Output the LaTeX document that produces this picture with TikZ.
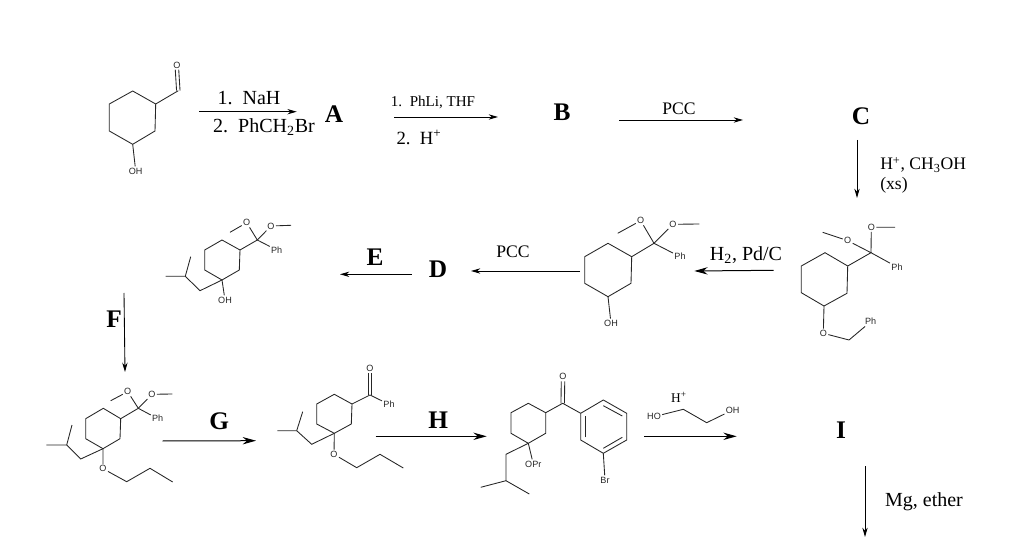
\documentclass[tikz,border=0pt]{standalone}
\usepackage{fontspec}
\setmainfont{Liberation Serif}
\newfontfamily\atomfont{Liberation Sans}
\usetikzlibrary{arrows.meta}
\tikzset{
  bond/.style={line width=0.65pt, draw=black!85},
  rxn/.style={line width=0.65pt, -{Stealth[length=7pt,width=4pt]}},
  rxnbig/.style={line width=0.75pt, -{Stealth[length=10pt,width=5.5pt]}},
  atom/.style={font=\atomfont\fontsize{6.8}{8}\selectfont, inner sep=0.9pt, text=black!85},
  reagent/.style={font=\fontsize{15}{16}\selectfont, inner sep=0pt, align=left},
  smallreagent/.style={font=\fontsize{13.2}{15}\selectfont, inner sep=0pt, align=left},
  tinyreagent/.style={font=\fontsize{10}{11}\selectfont, inner sep=0pt},
  compound/.style={font=\bfseries\fontsize{19}{20}\selectfont, inner sep=0pt}
}
\begin{document}
\begin{tikzpicture}[x=0.75pt, y=-0.75pt]
\useasboundingbox (0,0) rectangle (1024,559);

% hydroxy aldehyde
\coordinate (ma) at (132.7,91); \coordinate (mb) at (155.7,104); \coordinate (mc) at (155,131);
\coordinate (md) at (132.7,144.3); \coordinate (me) at (109.3,131); \coordinate (mf) at (109.3,104);
\coordinate (mcho) at (178.3,90.7);
\node[atom] (mo) at (177,65) {O};
\node[atom] (moh) at (135.7,171) {OH};
\draw[bond] (ma) -- (mb) -- (mc) -- (md) -- (me) -- (mf) -- cycle;
\draw[bond] (mb) -- (mcho);
\draw[bond] ([xshift=-1.3pt]mcho) -- ([xshift=-1.3pt]mo.south);
\draw[bond] ([xshift=1.3pt]mcho) -- ([xshift=1.3pt]mo.south);
\draw[bond] (md) -- (moh);

\coordinate (r1s) at (199,111.7); \coordinate (r1e) at (296.7,111.7);
\draw[rxn] (r1s) -- (r1e);
\node[reagent] (r1a) at (249,98) {1.\ \ NaH};
\node[reagent] (r1b) at (264,127) {2.\ \ PhCH\textsubscript{2}Br};
\node[compound] (cpdA) at (334,114) {A};

\coordinate (r2s) at (394,117); \coordinate (r2e) at (498,117);
\draw[rxn] (r2s) -- (r2e);
\node[tinyreagent, font=\fontsize{11.3}{13}\selectfont] (r2a) at (433,102) {1.\ \ PhLi, THF};
\node[smallreagent, font=\fontsize{14}{15}\selectfont] (r2b) at (419,137) {2.\ \ H\textsuperscript{+}};
\node[compound] (cpdB) at (562,112) {B};

\coordinate (r3s) at (619,120); \coordinate (r3e) at (743,120);
\draw[rxn] (r3s) -- (r3e);
\node[smallreagent] (r3a) at (679,109) {PCC};
\node[compound] (cpdC) at (861,116) {C};

\coordinate (r4s) at (857,140); \coordinate (r4e) at (857,198);
\draw[rxn] (r4s) -- (r4e);
\node[smallreagent, anchor=west] (r4a) at (880,165) {H\textsuperscript{+}, CH\textsubscript{3}OH};
\node[smallreagent, anchor=west] (r4b) at (880,185) {(xs)};

% benzyl ether ketal
\coordinate (pa) at (825,252.7); \coordinate (pb) at (847.7,266); \coordinate (pc) at (847,293.3);
\coordinate (pd) at (824,306); \coordinate (pe) at (801.3,292.7); \coordinate (pf) at (801.3,266);
\coordinate (pk) at (871,252.7); \coordinate (pme) at (822.7,232.3); \coordinate (pme2) at (895,227.3);
\coordinate (pch) at (849,340);
\node[atom] (po) at (847.7,240.7) {O};
\node[atom] (po2) at (871.3,227.3) {O};
\node[atom] (pph) at (897,267) {Ph};
\node[atom] (po3) at (823.3,333.3) {O};
\node[atom] (pph2) at (870.7,321.7) {Ph};
\draw[bond] (pa) -- (pb) -- (pc) -- (pd) -- (pe) -- (pf) -- cycle;
\draw[bond] (pb) -- (pk) -- (po) -- (pme);
\draw[bond] (pk) -- (po2) -- (pme2);
\draw[bond] (pk) -- (pph);
\draw[bond] (pd) -- (po3) -- (pch) -- (pph2);

\coordinate (r5s) at (773.7,270.3); \coordinate (r5e) at (694.3,271);
\draw[rxnbig] (r5s) -- (r5e);
\node[reagent] (r5a) at (746,255) {H\textsubscript{2}, Pd/C};

% hydroxy ketal
\coordinate (qa) at (608,243.3); \coordinate (qb) at (631.7,256.7); \coordinate (qc) at (631,283.3);
\coordinate (qd) at (608,296.7); \coordinate (qe) at (584.7,283.3); \coordinate (qf) at (584.7,256.7);
\coordinate (qk) at (654,243.3); \coordinate (qme) at (617.7,233.3); \coordinate (qme2) at (699.3,224);
\node[atom] (qo) at (640.7,220.7) {O};
\node[atom] (qo2) at (673,224.3) {O};
\node[atom] (qph) at (680,256.7) {Ph};
\node[atom] (qoh) at (611,323.3) {OH};
\draw[bond] (qa) -- (qb) -- (qc) -- (qd) -- (qe) -- (qf) -- cycle;
\draw[bond] (qb) -- (qk) -- (qo) -- (qme);
\draw[bond] (qk) -- (qo2) -- (qme2);
\draw[bond] (qk) -- (qph);
\draw[bond] (qd) -- (qoh);

\coordinate (r6s) at (580,271); \coordinate (r6e) at (471,271);
\draw[rxn] (r6s) -- (r6e);
\node[smallreagent] (r6a) at (513,252) {PCC};
\node[compound] (cpdD) at (438,269) {D};

\coordinate (r7s) at (411.7,274.3); \coordinate (r7e) at (340,274.3);
\draw[rxn] (r7s) -- (r7e);
\node[compound] (cpdE) at (375,257.3) {E};

% isobutyl carbinol
\coordinate (sa) at (222,240); \coordinate (sb) at (240,250); \coordinate (sc) at (239.3,270);
\coordinate (sd) at (222,280); \coordinate (se) at (204.7,270); \coordinate (sf) at (204.7,250);
\coordinate (sk) at (257.3,240); \coordinate (sme) at (230,232.3); \coordinate (sme2) at (291,225.3);
\coordinate (sch) at (200,290.7); \coordinate (sbr) at (185.3,276.3);
\coordinate (si1) at (165.7,276.3); \coordinate (si2) at (190.7,256.7);
\node[atom] (so) at (246.7,222.7) {O};
\node[atom] (so2) at (271,226) {O};
\node[atom] (sph) at (276.7,250) {Ph};
\node[atom] (soh) at (225,300) {OH};
\draw[bond] (sa) -- (sb) -- (sc) -- (sd) -- (se) -- (sf) -- cycle;
\draw[bond] (sb) -- (sk) -- (so) -- (sme);
\draw[bond] (sk) -- (so2) -- (sme2);
\draw[bond] (sk) -- (sph);
\draw[bond] (sd) -- (soh);
\draw[bond] (sd) -- (sch) -- (sbr) -- (si1);
\draw[bond] (sbr) -- (si2);

\coordinate (r8s) at (124,293); \coordinate (r8e) at (125,372);
\draw[rxn] (r8s) -- (r8e);
\node[compound] (cpdF) at (114,319) {F};

% propyl ether ketal
\coordinate (ta) at (103.3,408.3); \coordinate (tb) at (120.7,418.7); \coordinate (tc) at (120,438.7);
\coordinate (td) at (103,448.7); \coordinate (te) at (85.7,438.7); \coordinate (tf) at (85.7,418.7);
\coordinate (tk) at (138.3,408.3); \coordinate (tme) at (110.7,400.7); \coordinate (tme2) at (172.3,394);
\coordinate (tch) at (80.7,459); \coordinate (tbr) at (66.7,445);
\coordinate (ti1) at (46.3,445); \coordinate (ti2) at (72,425);
\coordinate (tp1) at (126.7,481.7); \coordinate (tp2) at (150,468.3); \coordinate (tp3) at (172.7,482);
\node[atom] (to) at (127.7,391.7) {O};
\node[atom] (to2) at (152,394.3) {O};
\node[atom] (tph) at (157.7,418.7) {Ph};
\node[atom] (to3) at (103,468.7) {O};
\draw[bond] (ta) -- (tb) -- (tc) -- (td) -- (te) -- (tf) -- cycle;
\draw[bond] (tb) -- (tk) -- (to) -- (tme);
\draw[bond] (tk) -- (to2) -- (tme2);
\draw[bond] (tk) -- (tph);
\draw[bond] (td) -- (to3) -- (tp1) -- (tp2) -- (tp3);
\draw[bond] (td) -- (tch) -- (tbr) -- (ti1);
\draw[bond] (tbr) -- (ti2);

\coordinate (r9s) at (162.7,441); \coordinate (r9e) at (256,440.7);
\draw[rxnbig] (r9s) -- (r9e);
\node[compound] (cpdG) at (219.3,421) {G};

% phenyl ketone
\coordinate (ua) at (334.3,394.3); \coordinate (ub) at (352,404); \coordinate (uc) at (351.3,424);
\coordinate (ud) at (334.3,433.3); \coordinate (ue) at (316.7,424); \coordinate (uf) at (316.7,404);
\coordinate (uk) at (370,395);
\coordinate (uch) at (311.7,444.3); \coordinate (ubr) at (296.7,430.7);
\coordinate (ui1) at (277.3,430.7); \coordinate (ui2) at (302.7,411.7);
\coordinate (up1) at (356.7,467.7); \coordinate (up2) at (380,454.3); \coordinate (up3) at (403.3,468);
\node[atom] (uo) at (370,368) {O};
\node[atom] (uph) at (389,404.3) {Ph};
\node[atom] (uo3) at (334,454.3) {O};
\draw[bond] (ua) -- (ub) -- (uc) -- (ud) -- (ue) -- (uf) -- cycle;
\draw[bond] (ub) -- (uk) -- (uph);
\draw[bond] ([xshift=-1.3pt]uk) -- ([xshift=-1.3pt]uo.south);
\draw[bond] ([xshift=1.3pt]uk) -- ([xshift=1.3pt]uo.south);
\draw[bond] (ud) -- (uo3) -- (up1) -- (up2) -- (up3);
\draw[bond] (ud) -- (uch) -- (ubr) -- (ui1);
\draw[bond] (ubr) -- (ui2);

\coordinate (r10s) at (375.7,436.3); \coordinate (r10e) at (486.7,436.3);
\draw[rxnbig] (r10s) -- (r10e);
\node[compound] (cpdH) at (438.3,420.7) {H};

% bromophenyl ketone
\coordinate (va) at (528.3,403.3); \coordinate (vb) at (545.7,412.7); \coordinate (vc) at (545.7,433.3);
\coordinate (vd) at (528.3,443.3); \coordinate (ve) at (511,433.3); \coordinate (vf) at (511,412.7);
\coordinate (vk) at (562.7,403.3);
\coordinate (wa) at (580.7,413.3); \coordinate (wb) at (603.3,400); \coordinate (wc) at (626.7,413.3);
\coordinate (wd) at (626.7,440); \coordinate (we) at (603.3,453.3); \coordinate (wf) at (580.7,440);
\coordinate (wg) at (603.3,405.7); \coordinate (wh) at (622.3,416);
\coordinate (wi) at (622.3,437.3); \coordinate (wj) at (603.3,448.3);
\coordinate (wk) at (585,437.3); \coordinate (wl) at (585,416);
\coordinate (vch) at (506,454.3); \coordinate (vbr) at (506,480.7);
\coordinate (vi1) at (480.7,487.3); \coordinate (vi2) at (529.3,494);
\node[atom] (vo) at (563,376.7) {O};
\node[atom] (vbrom) at (605,480) {Br};
\node[atom] (vopr) at (533.3,464) {OPr};
\draw[bond] (va) -- (vb) -- (vc) -- (vd) -- (ve) -- (vf) -- cycle;
\draw[bond] (wa) -- (wb) -- (wc) -- (wd) -- (we) -- (wf) -- cycle;
\draw[bond] (wg) -- (wh);
\draw[bond] (wi) -- (wj);
\draw[bond] (wk) -- (wl);
\draw[bond] (vb) -- (vk) -- (wa);
\draw[bond] ([xshift=-1.3pt]vk) -- ([xshift=-1.3pt]vo.south);
\draw[bond] ([xshift=1.3pt]vk) -- ([xshift=1.3pt]vo.south);
\draw[bond] (we) -- (vbrom);
\draw[bond] (vd) -- (vopr);
\draw[bond] (vd) -- (vch) -- (vbr) -- (vi1);
\draw[bond] (vbr) -- (vi2);

\coordinate (r11s) at (644,436.3); \coordinate (r11e) at (736.7,436.3);
\draw[rxnbig] (r11s) -- (r11e);
\node[tinyreagent] (r11a) at (679,397.3) {H\textsuperscript{+}};
\coordinate (g1) at (683.3,409.3); \coordinate (g2) at (706.7,422.7);
\node[atom] (gho) at (654,416.7) {HO};
\node[atom] (goh) at (732.7,410) {OH};
\draw[bond] (gho) -- (g1) -- (g2) -- (goh);
\node[compound] (cpdI) at (841,430) {I};

\coordinate (r12s) at (865,466); \coordinate (r12e) at (865,537);
\draw[rxn] (r12s) -- (r12e);
\node[reagent] (r12a) at (924,502) {Mg, ether};
\end{tikzpicture}
\end{document}
